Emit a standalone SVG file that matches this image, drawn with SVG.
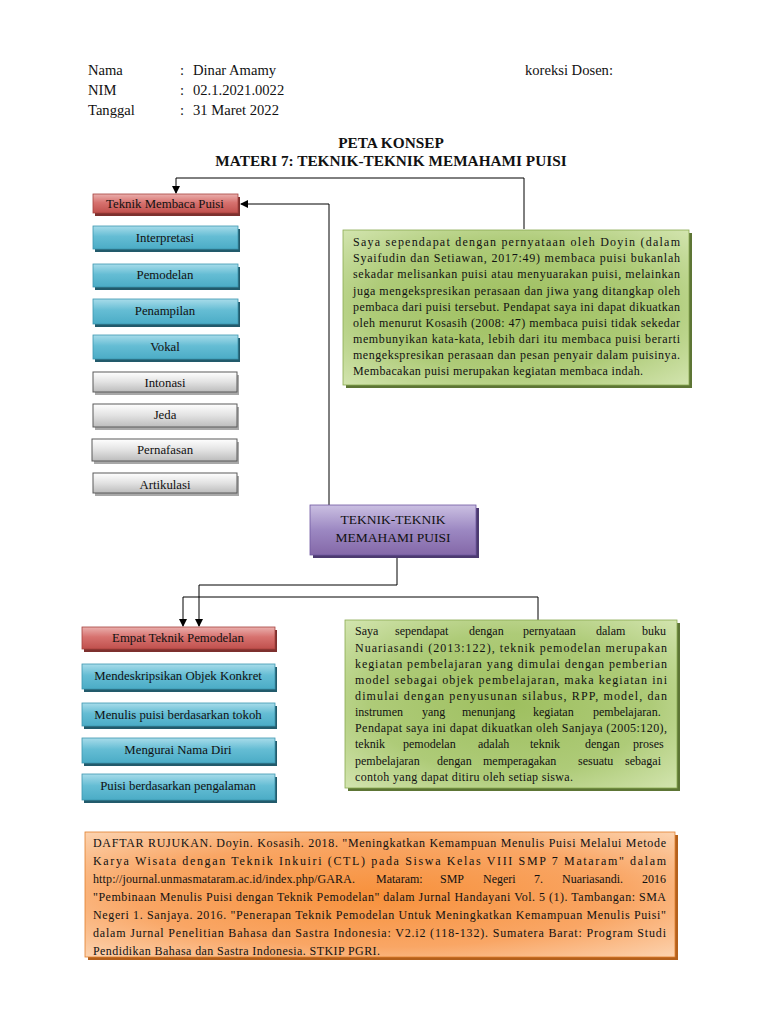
<svg xmlns="http://www.w3.org/2000/svg" width="768" height="1024" viewBox="0 0 768 1024">
<defs>
<linearGradient id="gRed" x1="0" y1="0" x2="0" y2="1"><stop offset="0" stop-color="#eab0ae"/><stop offset="0.45" stop-color="#d7726f"/><stop offset="1" stop-color="#c0504d"/></linearGradient>
<linearGradient id="gBlue" x1="0" y1="0" x2="0" y2="1"><stop offset="0" stop-color="#a8dcea"/><stop offset="0.45" stop-color="#65bdd4"/><stop offset="1" stop-color="#4bacc6"/></linearGradient>
<linearGradient id="gGray" x1="0" y1="0" x2="0" y2="1"><stop offset="0" stop-color="#ffffff"/><stop offset="0.5" stop-color="#e2e2e2"/><stop offset="1" stop-color="#bcbcbc"/></linearGradient>
<linearGradient id="gPurple" x1="0" y1="0" x2="0" y2="1"><stop offset="0" stop-color="#cbc0e2"/><stop offset="0.5" stop-color="#9c88c2"/><stop offset="1" stop-color="#8468a8"/></linearGradient>
<radialGradient id="gGreen" cx="0.5" cy="0.5" r="0.7"><stop offset="0" stop-color="#9ebf5f"/><stop offset="0.6" stop-color="#aecb78"/><stop offset="1" stop-color="#d2e4ae"/></radialGradient>
<radialGradient id="gOrange" cx="0.5" cy="0.5" r="0.7"><stop offset="0" stop-color="#f7913c"/><stop offset="0.6" stop-color="#f9a665"/><stop offset="1" stop-color="#fcd2ae"/></radialGradient>
<marker id="arr" markerWidth="8" markerHeight="8" refX="7" refY="4" orient="auto" markerUnits="userSpaceOnUse"><path d="M0,0 L8,4 L0,8 Z" fill="#000"/></marker>
</defs>
<style>
text{font-family:"Liberation Serif","Times New Roman",serif;fill:#111;}
.hd{font-size:14.6px;}
.tt{font-size:15.3px;font-weight:bold;text-anchor:middle;}
.lb{font-size:12.8px;text-anchor:middle;}
.gt{font-size:12px;}
.ot{font-size:12px;}
.red{fill:url(#gRed);stroke:#a5413e;stroke-width:0.8;}
.redS{fill:#7d302e;}
.blue{fill:url(#gBlue);stroke:#3d97b0;stroke-width:0.8;}
.blueS{fill:#225a6b;}
.gray{fill:url(#gGray);stroke:#5a5a5a;stroke-width:1;}
.grayS{fill:#a8a8a8;}
.purple{fill:url(#gPurple);stroke:#6f58a0;stroke-width:0.8;}
.purpleS{fill:#4c3a70;}
.green{fill:url(#gGreen);stroke:#8bab52;stroke-width:0.8;}
.greenS{fill:#5d7535;}
.orange{fill:url(#gOrange);stroke:#e07f2e;stroke-width:0.8;}
.orangeS{fill:#b3601c;}
.conn{fill:none;stroke:#000;stroke-width:1;}
</style>

<g id="header">
<text class="hd" x="88" y="75">Nama</text>
<text class="hd" x="180" y="75">:</text>
<text class="hd" x="193" y="75">Dinar Amamy</text>
<text class="hd" x="525" y="75">koreksi Dosen:</text>
<text class="hd" x="88" y="95">NIM</text>
<text class="hd" x="180" y="95">:</text>
<text class="hd" x="193" y="95">02.1.2021.0022</text>
<text class="hd" x="88" y="115">Tanggal</text>
<text class="hd" x="180" y="115">:</text>
<text class="hd" x="193" y="115">31 Maret 2022</text>
<text class="tt" x="391" y="148">PETA KONSEP</text>
<text class="tt" x="391" y="166">MATERI 7: TEKNIK-TEKNIK MEMAHAMI PUISI</text>
</g>

<g id="connectors">
<path class="conn" d="M524 229 V178 H176 V193" marker-end="url(#arr)"/>
<path class="conn" d="M329 505 V204 H241" marker-end="url(#arr)"/>
<path class="conn" d="M397 557 V585 H199 V626" marker-end="url(#arr)"/>
<path class="conn" d="M538 620 V597 H183 V626" marker-end="url(#arr)"/>
</g>

<g id="teknik-membaca-puisi"><rect class="redS" x="95" y="197" width="145" height="19"/><rect class="red" x="93" y="194" width="145" height="19"/><text class="lb" x="165" y="208">Teknik Membaca Puisi</text></g>
<g id="interpretasi"><rect class="blueS" x="95" y="229" width="145" height="23"/><rect class="blue" x="93" y="226" width="145" height="23"/><text class="lb" x="165" y="242">Interpretasi</text></g>
<g id="pemodelan"><rect class="blueS" x="95" y="267" width="145" height="23"/><rect class="blue" x="93" y="264" width="145" height="23"/><text class="lb" x="165" y="279">Pemodelan</text></g>
<g id="penampilan"><rect class="blueS" x="95" y="302" width="145" height="25"/><rect class="blue" x="93" y="299" width="145" height="25"/><text class="lb" x="165" y="315">Penampilan</text></g>
<g id="vokal"><rect class="blueS" x="95" y="338" width="145" height="24"/><rect class="blue" x="93" y="335" width="145" height="24"/><text class="lb" x="165" y="351">Vokal</text></g>
<g id="intonasi"><rect class="grayS" x="95" y="375" width="144" height="20"/><rect class="gray" x="93" y="372" width="144" height="20"/><text class="lb" x="165" y="387">Intonasi</text></g>
<g id="jeda"><rect class="grayS" x="95" y="407" width="144" height="23"/><rect class="gray" x="93" y="404" width="144" height="23"/><text class="lb" x="165" y="419">Jeda</text></g>
<g id="pernafasan"><rect class="grayS" x="94" y="442" width="145" height="22"/><rect class="gray" x="92" y="439" width="145" height="22"/><text class="lb" x="165" y="454">Pernafasan</text></g>
<g id="artikulasi"><rect class="grayS" x="95" y="476" width="144" height="20"/><rect class="gray" x="93" y="473" width="144" height="20"/><text class="lb" x="165" y="489">Artikulasi</text></g>

<g id="kutipan-membaca">
<rect class="greenS" x="346" y="233" width="346" height="155"/>
<rect class="green" x="343" y="230" width="346" height="155"/>
<text class="gt" x="353" y="246" textLength="327" lengthAdjust="spacing">Saya sependapat dengan pernyataan oleh Doyin  (dalam</text>
<text class="gt" x="353" y="262" textLength="327" lengthAdjust="spacing">Syaifudin dan Setiawan, 2017:49) membaca  puisi  bukanlah</text>
<text class="gt" x="353" y="278" textLength="327" lengthAdjust="spacing">sekadar melisankan puisi atau menyuarakan puisi, melainkan</text>
<text class="gt" x="353" y="294.5" textLength="327" lengthAdjust="spacing">juga mengekspresikan perasaan dan jiwa yang ditangkap oleh</text>
<text class="gt" x="353" y="310.5" textLength="327" lengthAdjust="spacing">pembaca dari puisi tersebut. Pendapat saya ini dapat dikuatkan</text>
<text class="gt" x="353" y="326.5" textLength="327" lengthAdjust="spacing">oleh menurut Kosasih (2008: 47) membaca puisi tidak sekedar</text>
<text class="gt" x="353" y="342.5" textLength="327" lengthAdjust="spacing">membunyikan kata-kata, lebih dari itu membaca puisi berarti</text>
<text class="gt" x="353" y="358.5" textLength="327" lengthAdjust="spacing">mengekspresikan perasaan dan pesan penyair dalam puisinya.</text>
<text class="gt" x="353" y="375" textLength="290" lengthAdjust="spacing">Membacakan puisi merupakan kegiatan membaca indah.</text>
</g>

<g id="teknik-memahami-puisi"><rect class="purpleS" x="313" y="508" width="166" height="50"/><rect class="purple" x="310" y="505" width="166" height="50"/>
<text class="lb" x="393" y="524" style="font-size:13.5px">TEKNIK-TEKNIK</text>
<text class="lb" x="393" y="542" style="font-size:13.5px">MEMAHAMI PUISI</text></g>

<g id="empat-teknik-pemodelan"><rect class="redS" x="84" y="630" width="193" height="22"/><rect class="red" x="82" y="627" width="193" height="22"/><text class="lb" x="178" y="642">Empat Teknik Pemodelan</text></g>
<g id="mendeskripsikan"><rect class="blueS" x="84" y="667" width="193" height="25"/><rect class="blue" x="82" y="664" width="193" height="25"/><text class="lb" x="178" y="680">Mendeskripsikan Objek Konkret</text></g>
<g id="menulis-tokoh"><rect class="blueS" x="84" y="706" width="193" height="23"/><rect class="blue" x="82" y="703" width="193" height="23"/><text class="lb" x="178" y="719">Menulis puisi berdasarkan tokoh</text></g>
<g id="mengurai-nama"><rect class="blueS" x="84" y="741" width="193" height="25"/><rect class="blue" x="82" y="738" width="193" height="25"/><text class="lb" x="178" y="754">Mengurai Nama Diri</text></g>
<g id="puisi-pengalaman"><rect class="blueS" x="84" y="777" width="193" height="26"/><rect class="blue" x="82" y="774" width="193" height="26"/><text class="lb" x="178" y="790">Puisi berdasarkan pengalaman</text></g>

<g id="kutipan-pemodelan">
<rect class="greenS" x="348" y="623" width="332" height="168"/>
<rect class="green" x="345" y="620" width="332" height="168"/>
<text class="gt" y="635"><tspan x="355">Saya</tspan><tspan x="395">sependapat</tspan><tspan x="469">dengan</tspan><tspan x="523">pernyataan</tspan><tspan x="596">dalam</tspan><tspan x="642">buku</tspan></text>
<text class="gt" x="355" y="651.5" textLength="312" lengthAdjust="spacing">Nuariasandi (2013:122), teknik pemodelan merupakan</text>
<text class="gt" x="355" y="667.5" textLength="312" lengthAdjust="spacing">kegiatan pembelajaran yang dimulai dengan pemberian</text>
<text class="gt" x="355" y="683.5" textLength="312" lengthAdjust="spacing">model sebagai objek pembelajaran, maka kegiatan ini</text>
<text class="gt" x="355" y="700" textLength="312" lengthAdjust="spacing">dimulai dengan penyusunan silabus, RPP, model, dan</text>
<text class="gt" y="716"><tspan x="355">instrumen</tspan><tspan x="422">yang</tspan><tspan x="462">menunjang</tspan><tspan x="533">kegiatan</tspan><tspan x="593">pembelajaran.</tspan></text>
<text class="gt" x="355" y="732" textLength="312" lengthAdjust="spacing">Pendapat saya ini dapat dikuatkan oleh Sanjaya (2005:120),</text>
<text class="gt" y="748"><tspan x="355">teknik</tspan><tspan x="403">pemodelan</tspan><tspan x="478">adalah</tspan><tspan x="530">teknik</tspan><tspan x="585">dengan</tspan><tspan x="633">proses</tspan></text>
<text class="gt" y="764.5"><tspan x="355">pembelajaran</tspan><tspan x="437">dengan</tspan><tspan x="483">memperagakan</tspan><tspan x="578">sesuatu</tspan><tspan x="625">sebagai</tspan></text>
<text class="gt" x="355" y="781" textLength="218" lengthAdjust="spacing">contoh yang dapat ditiru oleh setiap siswa.</text>
</g>

<g id="daftar-rujukan">
<rect class="orangeS" x="88" y="835" width="590" height="125"/>
<rect class="orange" x="85" y="832" width="590" height="125"/>
<text class="ot" x="93" y="847" textLength="573" lengthAdjust="spacing">DAFTAR RUJUKAN. Doyin. Kosasih. 2018. "Meningkatkan Kemampuan Menulis Puisi Melalui Metode</text>
<text class="ot" x="93" y="865" textLength="573" lengthAdjust="spacing">Karya Wisata dengan Teknik Inkuiri (CTL) pada Siswa Kelas VIII SMP 7 Mataram" dalam</text>
<text class="ot" x="93" y="883" textLength="262" lengthAdjust="spacing">http://journal.unmasmataram.ac.id/index.php/GARA.</text>
<text class="ot" y="883"><tspan x="376">Mataram:</tspan><tspan x="440">SMP</tspan><tspan x="483">Negeri</tspan><tspan x="534">7.</tspan><tspan x="562">Nuariasandi.</tspan></text>
<text class="ot" x="666" y="883" text-anchor="end">2016</text>
<text class="ot" x="93" y="901" textLength="573" lengthAdjust="spacing">"Pembinaan Menulis Puisi dengan Teknik Pemodelan" dalam Jurnal Handayani Vol. 5 (1). Tambangan: SMA</text>
<text class="ot" x="93" y="919" textLength="573" lengthAdjust="spacing">Negeri 1. Sanjaya. 2016. "Penerapan Teknik Pemodelan Untuk Meningkatkan Kemampuan Menulis Puisi"</text>
<text class="ot" x="93" y="937" textLength="573" lengthAdjust="spacing">dalam Jurnal Penelitian Bahasa dan Sastra Indonesia: V2.i2 (118-132). Sumatera Barat: Program Studi</text>
<text class="ot" x="93" y="955" textLength="287" lengthAdjust="spacing">Pendidikan Bahasa dan Sastra Indonesia. STKIP PGRI.</text>
</g>
</svg>
